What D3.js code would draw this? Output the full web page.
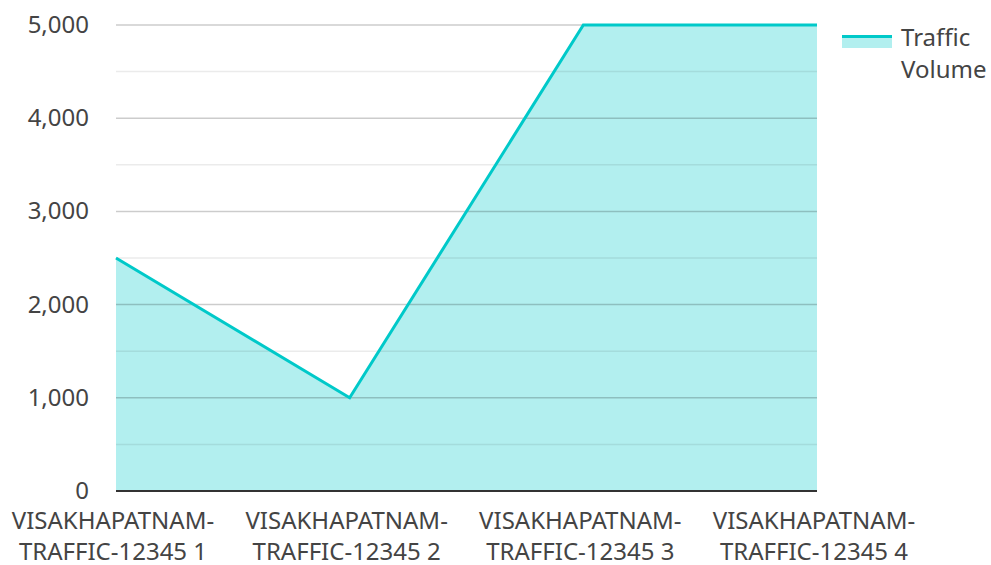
<!DOCTYPE html>
<html><head><meta charset="utf-8">
<script src="https://cdn.jsdelivr.net/npm/d3@7"></script>
<style>
body{margin:0;background:#fff;}
text{font-family:"Noto Sans","Open Sans",sans-serif;fill:#444;}
</style></head>
<body><svg id="c" width="991" height="565"></svg>
<script>
const categories = ["VISAKHAPATNAM-TRAFFIC-12345 1","VISAKHAPATNAM-TRAFFIC-12345 2","VISAKHAPATNAM-TRAFFIC-12345 3","VISAKHAPATNAM-TRAFFIC-12345 4"];
const labelLines = [["VISAKHAPATNAM-","TRAFFIC-12345 1"],["VISAKHAPATNAM-","TRAFFIC-12345 2"],["VISAKHAPATNAM-","TRAFFIC-12345 3"],["VISAKHAPATNAM-","TRAFFIC-12345 4"]];
const values = [2500, 1000, 5000, 5000];
const majorTicks = [0,1000,2000,3000,4000,5000];
const minorTicks = [500,1500,2500,3500,4500];
const seriesName = ["Traffic","Volume"];

const svg = d3.select("#c");
const L=116, R=817, T=25, B=491;
const x = d3.scalePoint().domain(categories).range([L,R]);
const y = d3.scaleLinear().domain([0,5000]).range([B,T]);

const area = d3.area().x((d,i)=>x(categories[i])).y0(y(0)).y1(d=>y(d));
const line = d3.line().x((d,i)=>x(categories[i])).y(d=>y(d));

svg.append("path").datum(values).attr("d",area).attr("fill","#b2efef");

svg.append("g").selectAll("line").data(minorTicks).join("line")
  .attr("x1",L).attr("x2",R).attr("y1",d=>y(d)).attr("y2",d=>y(d))
  .attr("stroke","rgba(0,0,0,0.08)").attr("stroke-width",1.5);
svg.append("g").selectAll("line").data(majorTicks.filter(d=>d>0)).join("line")
  .attr("x1",L).attr("x2",R).attr("y1",d=>y(d)).attr("y2",d=>y(d))
  .attr("stroke","rgba(0,0,0,0.2)").attr("stroke-width",1.5);

svg.append("path").datum(values).attr("d",line).attr("fill","none")
  .attr("stroke","#00c9c9").attr("stroke-width",3).attr("stroke-linejoin","miter");

svg.append("line").attr("x1",L).attr("x2",R).attr("y1",y(0)).attr("y2",y(0))
  .attr("stroke","#333").attr("stroke-width",2);

svg.append("g").selectAll("text").data(majorTicks).join("text")
  .attr("x",89).attr("y",d=>y(d)+8).attr("text-anchor","end")
  .attr("font-size",24).text(d=>d3.format(",")(d));

const xl = svg.append("g").selectAll("text").data(categories).join("text")
  .attr("text-anchor","middle").attr("font-size",24);
xl.each(function(d,i){
  const t=d3.select(this);
  labelLines[i].forEach((s,j)=>{
    t.append("tspan").attr("x",x(d)-3).attr("y",529+j*31).text(s);
  });
});

// legend
svg.append("rect").attr("x",842).attr("y",36).attr("width",50).attr("height",12).attr("fill","#b2efef");
svg.append("line").attr("x1",842).attr("x2",892).attr("y1",36.5).attr("y2",36.5).attr("stroke","#00c9c9").attr("stroke-width",3);
const lt = svg.append("text").attr("font-size",24);
seriesName.forEach((s,j)=>lt.append("tspan").attr("x",901).attr("y",46+j*32).text(s));
</script></body></html>
